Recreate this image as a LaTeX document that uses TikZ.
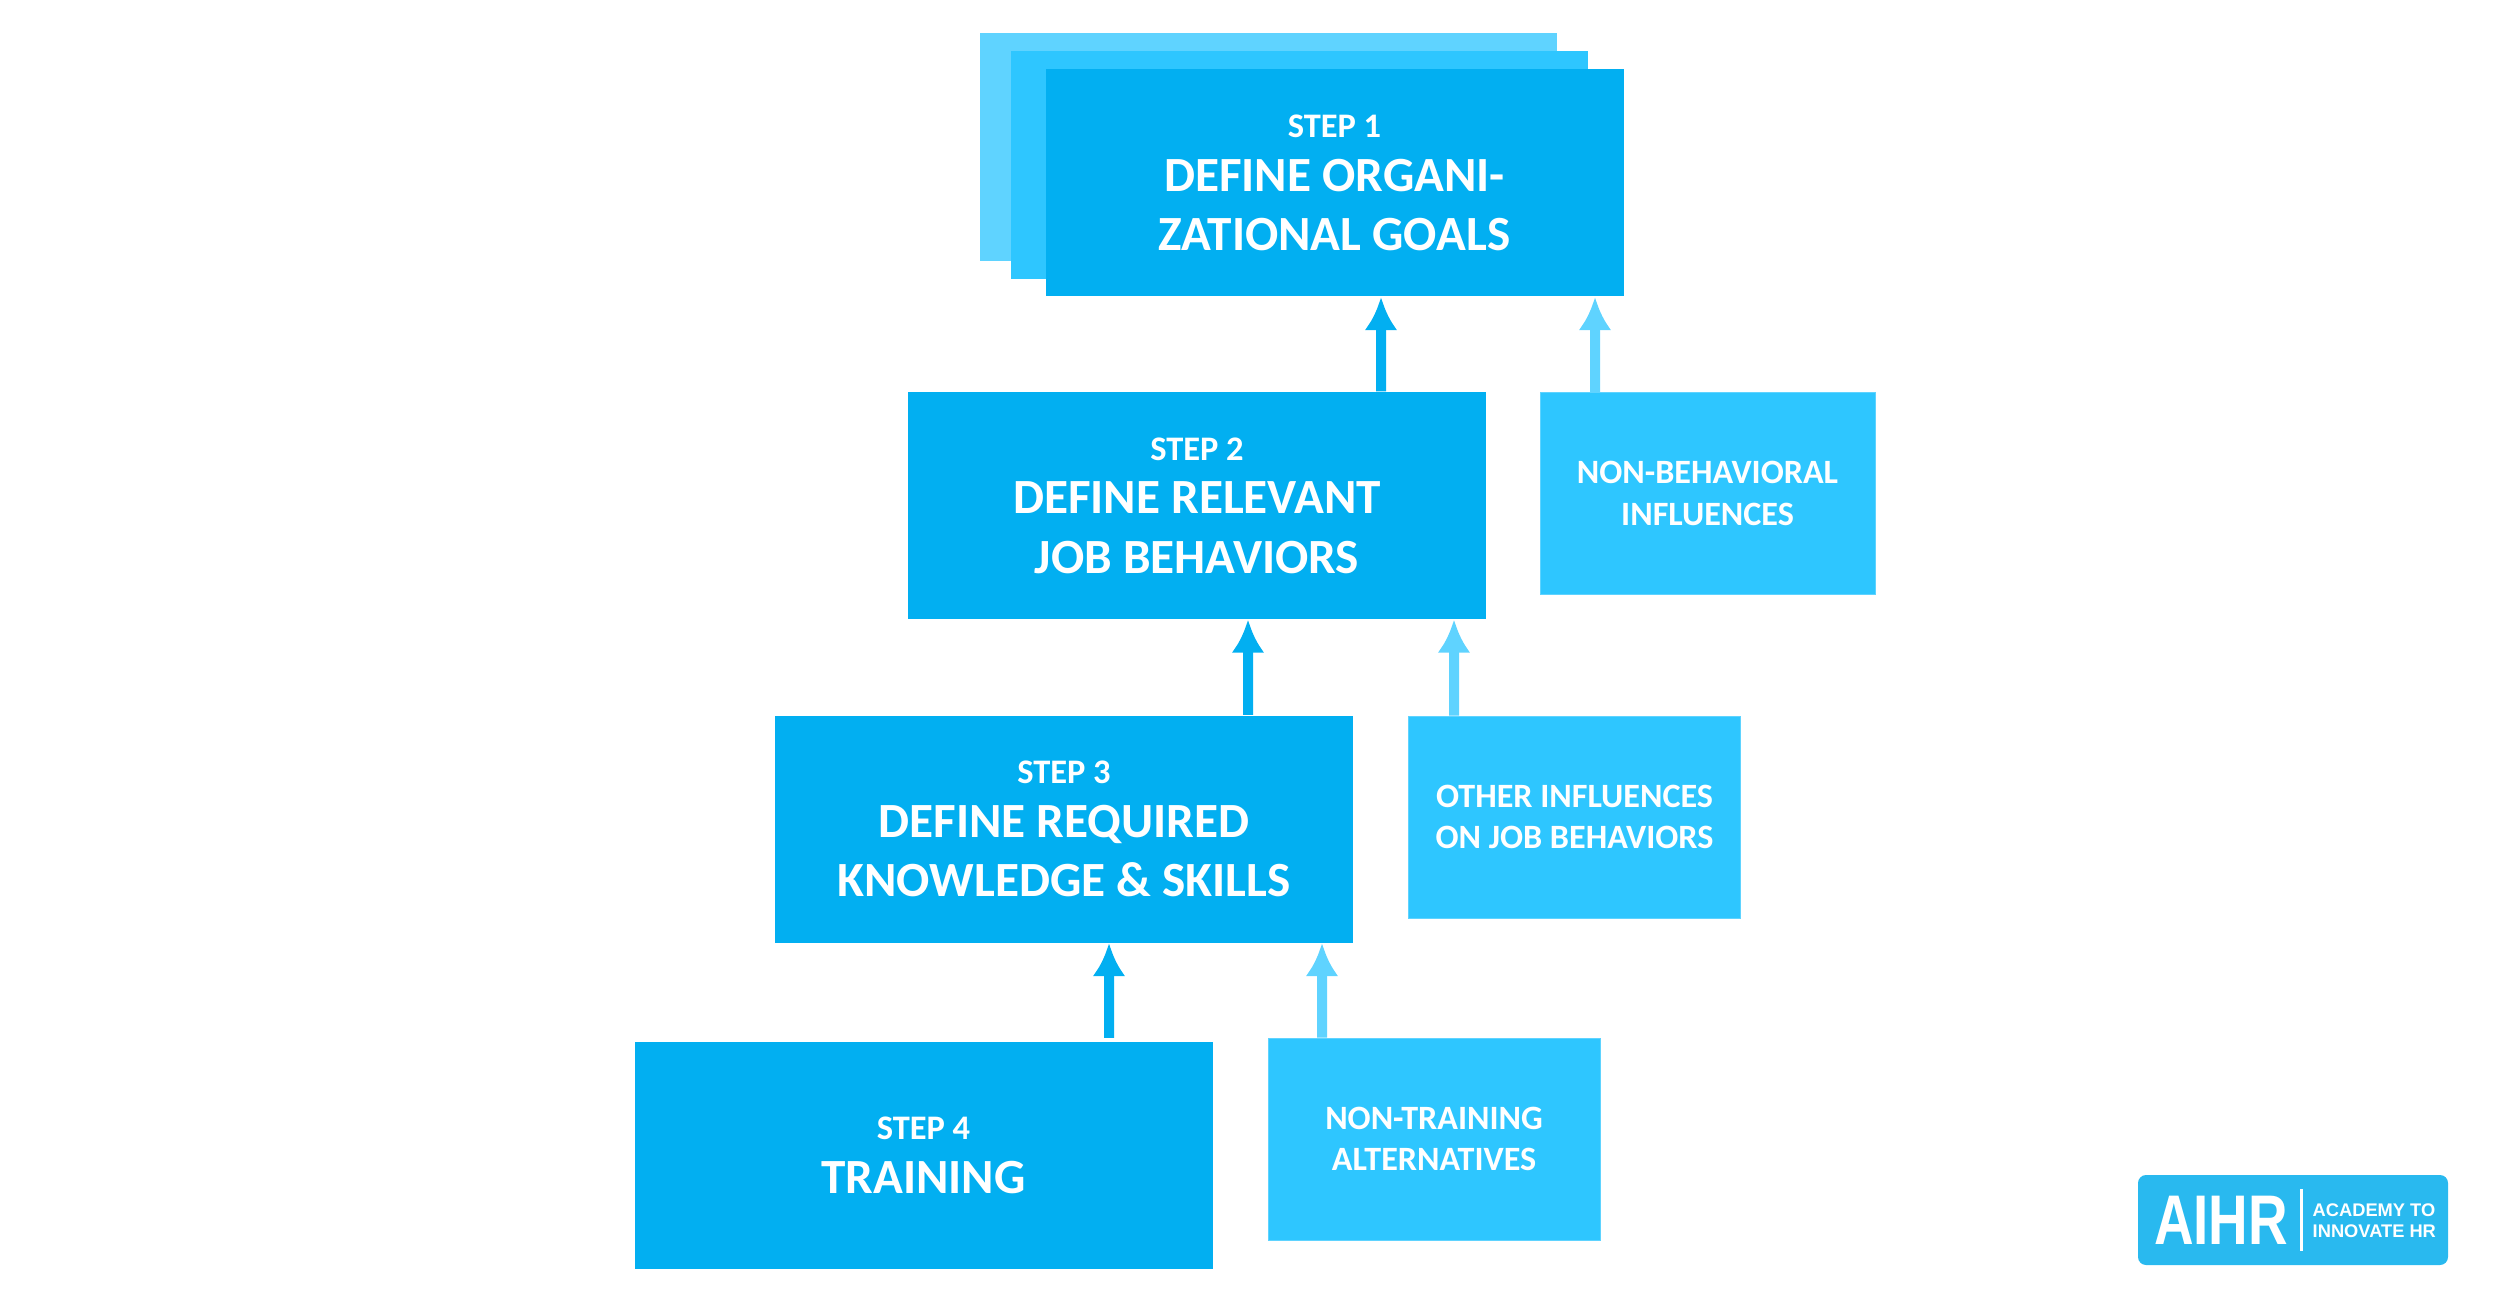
\documentclass[tikz,border=0pt]{standalone}
\usepackage{fontspec}
\setmainfont{Carlito}
\newfontfamily\logofont{Liberation Sans}
\usetikzlibrary{arrows.meta}
\definecolor{stepcol}{HTML}{02AFF1}
\definecolor{sidecol}{HTML}{2EC6FF}
\definecolor{backcol}{HTML}{5FD3FF}
\definecolor{logocol}{HTML}{29B9EF}
\newcommand{\steplabel}[1]{{\fontsize{9.8pt}{10pt}\selectfont #1}\\[-1.5pt]}
\tikzset{
    stepbox/.style={fill=stepcol, minimum width=5.78cm, minimum height=2.27cm, inner sep=0pt, text=white, align=center, font=\bfseries\fontsize{14pt}{16.8pt}\selectfont},
    sidebox/.style={fill=sidecol, draw=backcol, line width=.2pt, minimum width=3.32cm, minimum height=2.02cm, inner sep=0pt, text=white, align=center, font=\bfseries\fontsize{9.7pt}{11.9pt}\selectfont},
    backbox/.style={minimum width=5.77cm, minimum height=2.28cm, inner sep=0pt},
    mainarrow/.style={-{Latex[length=3.3mm, width=3.3mm]}, stepcol, line width=1mm},
    sidearrow/.style={-{Latex[length=3.3mm, width=3.3mm]}, backcol, line width=1mm}
}
\begin{document}
\begin{tikzpicture}
        \useasboundingbox (0, 0) rectangle (25, 13.07);

        \node[backbox, fill=backcol](backa) at(12.685, 11.6){};
        \node[backbox, fill=sidecol](backb) at(12.995, 11.415){};
        \node[stepbox](stepa) at(13.345, 11.24){\steplabel{STEP 1}DEFINE ORGANI-\\ZATIONAL GOALS};
        \node[stepbox](stepb) at(11.97, 8.015){\steplabel{STEP 2}DEFINE RELEVANT\\JOB BEHAVIORS};
        \node[stepbox](stepc) at(10.64, 4.78){\steplabel{STEP 3}DEFINE REQUIRED\\KNOWLEDGE \& SKILLS};
        \node[stepbox](stepd) at(9.235, 1.52){\steplabel{STEP 4}TRAINING};

        \node[sidebox, minimum width=3.35cm](sidea) at(17.075, 8.135){NON-BEHAVIORAL\\INFLUENCES};
        \node[sidebox](sideb) at(15.745, 4.9){OTHER INFLUENCES\\ON JOB BEHAVIORS};
        \node[sidebox](sidec) at(14.34, 1.68){NON-TRAINING\\ALTERNATIVES};

        \draw[mainarrow]([xshift=1.84cm]stepb.north) to ([xshift=.465cm]stepa.south);
        \draw[sidearrow]([xshift=-1.125cm]sidea.north) to ([xshift=2.605cm]stepa.south);
        \draw[mainarrow]([xshift=1.84cm]stepc.north) to ([xshift=.51cm]stepb.south);
        \draw[sidearrow]([xshift=-1.205cm]sideb.north) to ([xshift=2.57cm]stepb.south);
        \draw[mainarrow, shorten <=.3mm]([xshift=1.855cm]stepd.north) to ([xshift=.45cm]stepc.south);
        \draw[sidearrow]([xshift=-1.12cm]sidec.north) to ([xshift=2.58cm]stepc.south);

        \node[fill=logocol, rounded corners=.8mm, minimum width=3.1cm, minimum height=.9cm, inner sep=0pt](logobox) at(22.93, .87){};
        \node[text=white, inner sep=0pt, font=\logofont\bfseries\fontsize{20pt}{20pt}\selectfont](logoname) at(22.21, .87){\scalebox{.78}[1]{AIHR}};
        \node[fill=white, minimum width=.03cm, minimum height=.62cm, inner sep=0pt](logobar) at(23.01, .87){};
        \node[text=white, inner sep=0pt, align=left, anchor=west, font=\logofont\bfseries\fontsize{5.2pt}{6.1pt}\selectfont](logotext) at(23.12, .865){ACADEMY TO\\INNOVATE HR};
    \end{tikzpicture}
\end{document}
